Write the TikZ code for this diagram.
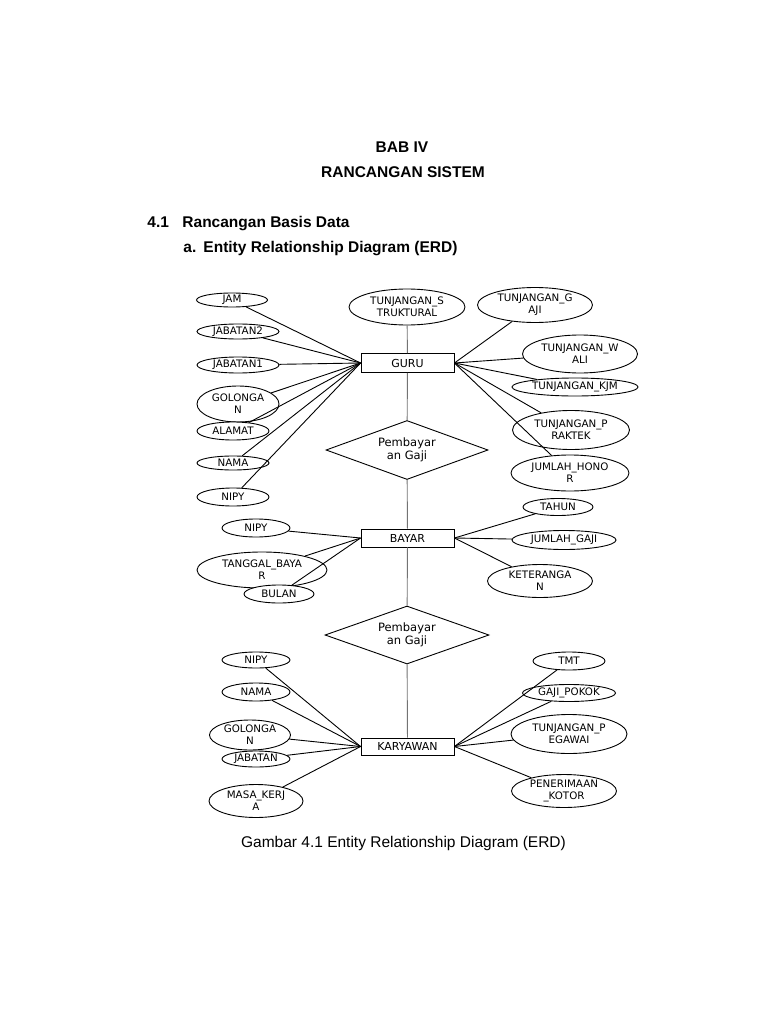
\documentclass[tikz,border=0pt]{standalone}
\usepackage{fontspec}
\setmainfont{Liberation Sans}
\newfontfamily\erdfont{DejaVu Sans}
\usetikzlibrary{shapes.geometric}

\begin{document}
\begin{tikzpicture}[x=1pt,y=-1pt,line width=0.9pt,
  entity/.style={rectangle,draw,fill=white,inner sep=0pt,minimum width=93pt,minimum height=18pt,font=\erdfont\fontsize{11}{13}\selectfont},
  attr/.style={ellipse,draw,fill=white,inner sep=0pt,align=center,font=\erdfont\fontsize{10.3}{12}\selectfont},
  relation/.style={diamond,draw,fill=white,aspect=2.8,inner sep=0pt,minimum width=162pt,minimum height=59pt,align=center,font=\erdfont\fontsize{11.5}{13}\selectfont},
  head/.style={inner sep=0pt,font=\bfseries\fontsize{15.5}{18}\selectfont},
  link/.style={draw=black!55}]

  \fill[white] (0,0) rectangle (768,1024);
  \useasboundingbox (0,0) rectangle (768,1024);

  % headings
  \node[head,anchor=base] (bab) at (402,152.5) {BAB IV};
  \node[head,anchor=base] (judul) at (403,177.5) {RANCANGAN SISTEM};
  \node[head,anchor=base west] (subno) at (147,227.5) {4.1};
  \node[head,anchor=base west] (sub) at (182,227.5) {Rancangan Basis Data};
  \node[head,anchor=base west] (itemno) at (183,252.5) {a.};
  \node[head,anchor=base west] (item) at (203,252.5) {Entity Relationship Diagram (ERD)};

  % entities and relations
  \node[entity,minimum height=19pt] (guru) at (407.5,363) {GURU};
  \node[relation] (bayargaji1) at (407,450) {Pembayar\\an Gaji};
  \node[entity] (bayar) at (407.5,538) {BAYAR};
  \node[relation,minimum width=164pt,minimum height=58pt] (bayargaji2) at (407,635) {Pembayar\\an Gaji};
  \node[entity,minimum height=17pt] (karyawan) at (407.5,746.5) {KARYAWAN};

  % GURU attributes
  \node[attr,minimum width=71pt,minimum height=14pt] (jam) at (232,300) {JAM};
  \node[attr,minimum width=82pt,minimum height=15pt] (jabatantwo) at (238,331.5) {JABATAN2};
  \node[attr,minimum width=82pt,minimum height=16pt] (jabatanone) at (238,365) {JABATAN1};
  \node[attr,minimum width=82pt,minimum height=36pt] (golguru) at (238,404) {GOLONGA\\N};
  \node[attr,minimum width=72pt,minimum height=18pt] (alamat) at (233,431) {ALAMAT};
  \node[attr,minimum width=72pt,minimum height=14pt] (namaguru) at (233,463) {NAMA};
  \node[attr,minimum width=72pt,minimum height=18pt] (nipyguru) at (233,497) {NIPY};

  \node[attr,minimum width=116pt,minimum height=36pt] (tstruktural) at (407,307) {TUNJANGAN\_S\\TRUKTURAL};
  \node[attr,minimum width=115pt,minimum height=35pt] (tgaji) at (535,305) {TUNJANGAN\_G\\AJI};
  \node[attr,minimum width=115pt,minimum height=38pt] (twali) at (580,354) {TUNJANGAN\_W\\ALI};
  \node[attr,minimum width=126pt,minimum height=18pt] (tkjm) at (575,387) {TUNJANGAN\_KJM};
  \node[attr,minimum width=117pt,minimum height=39pt] (tpraktek) at (571,430) {TUNJANGAN\_P\\RAKTEK};
  \node[attr,minimum width=118pt,minimum height=36pt] (honor) at (570,473) {JUMLAH\_HONO\\R};

  % BAYAR attributes
  \node[attr,minimum width=68pt,minimum height=18pt] (nipybayar) at (256,528) {NIPY};
  \node[attr,minimum width=130pt,minimum height=36pt] (tanggal) at (262,570) {TANGGAL\_BAYA\\R};
  \node[attr,minimum width=70pt,minimum height=18pt] (bulan) at (279,594) {BULAN};
  \node[attr,minimum width=70pt,minimum height=17pt] (tahun) at (558,507) {TAHUN};
  \node[attr,minimum width=104pt,minimum height=19pt] (jmlgaji) at (564,540) {JUMLAH\_GAJI};
  \node[attr,minimum width=105pt,minimum height=33pt] (keterangan) at (540,581) {KETERANGA\\N};

  % KARYAWAN attributes
  \node[attr,minimum width=68pt,minimum height=16pt] (nipykary) at (256,660) {NIPY};
  \node[attr,minimum width=68pt,minimum height=18pt] (namakary) at (256,692) {NAMA};
  \node[attr,minimum width=81pt,minimum height=30pt] (golkary) at (250,735) {GOLONGA\\N};
  \node[attr,minimum width=68pt,minimum height=16pt] (jabatan) at (256,759) {JABATAN};
  \node[attr,minimum width=94pt,minimum height=33pt] (masakerja) at (256,801) {MASA\_KERJ\\A};
  \node[attr,minimum width=72pt,minimum height=18pt] (tmt) at (569,661) {TMT};
  \node[attr,minimum width=93pt,minimum height=17pt] (gajipokok) at (569,693) {GAJI\_POKOK};
  \node[attr,minimum width=116pt,minimum height=39pt] (tpegawai) at (569,734) {TUNJANGAN\_P\\EGAWAI};
  \node[attr,minimum width=105pt,minimum height=33pt] (kotor) at (564,791) {PENERIMAAN\\\_KOTOR};

  % vertical links
  \path[link]
    (tstruktural) edge (guru)
    (guru) edge (bayargaji1)
    (bayargaji1) edge (bayar)
    (bayar) edge (bayargaji2)
    (bayargaji2) edge (karyawan);

  % attribute links
  \foreach \a in {jam,jabatantwo,jabatanone,golguru,alamat,namaguru,nipyguru}
    {\draw (\a) -- (guru.west);}
  \foreach \a in {tgaji,twali,tkjm,tpraktek,honor}
    {\draw (\a) -- (guru.east);}
  \foreach \a in {nipybayar,tanggal,bulan}
    {\draw (\a) -- (bayar.west);}
  \foreach \a in {tahun,jmlgaji,keterangan}
    {\draw (\a) -- (bayar.east);}
  \foreach \a in {nipykary,namakary,golkary,jabatan,masakerja}
    {\draw (\a) -- (karyawan.west);}
  \foreach \a in {tmt,gajipokok,tpegawai,kotor}
    {\draw (\a) -- (karyawan.east);}

  % caption
  \node[inner sep=0pt,anchor=base,font=\fontsize{15.5}{18}\selectfont] (caption) at (403.5,847.5)
    {Gambar 4.1 Entity Relationship Diagram (ERD)};

\end{tikzpicture}
\end{document}
